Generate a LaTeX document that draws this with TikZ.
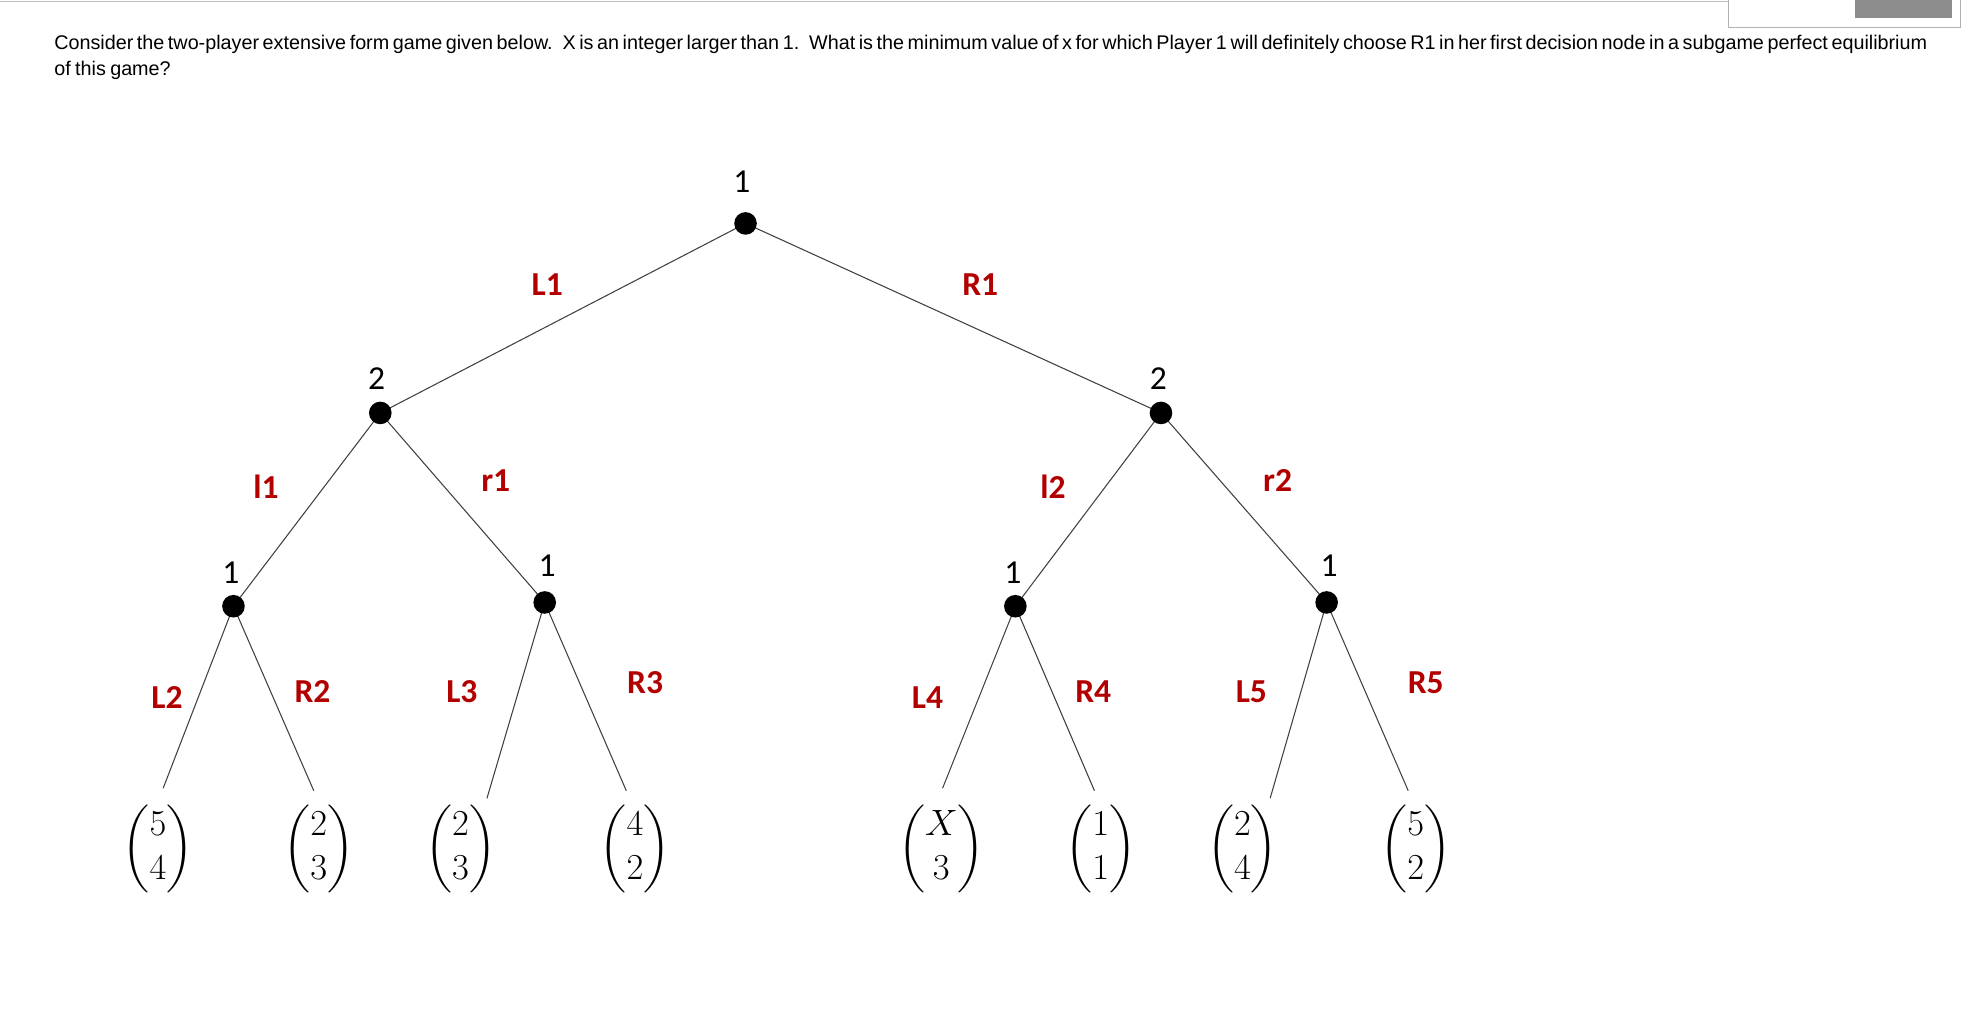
\documentclass[tikz,border=0pt]{standalone}
\usepackage{amsmath}
\usepackage{fontspec}
\usetikzlibrary{backgrounds}
\setmainfont{Liberation Sans}
\newfontfamily\lblfont{Carlito}
\begin{document}
\begin{tikzpicture}[x=0.025cm,y=-0.025cm,
  dot/.style={circle,fill=black,inner sep=0pt,minimum size=0.45cm},
  edge/.style={draw=black!75,line width=0.6pt},
  act/.style={font=\lblfont\bfseries\fontsize{19}{21}\selectfont,text=red!70!black},
  pl/.style={font=\lblfont\fontsize{19}{21}\selectfont},
  pay/.style={font=\fontsize{21}{25}\selectfont,inner sep=0pt}]
\useasboundingbox (0,0) rectangle (1568,817);
\draw[black!25] (0,1) -- (1377,1);
\draw[black!30] (1377,0) -- (1377,22) -- (1562,22) -- (1562,0);
\fill[black!45] (1478,0) rectangle (1555,14);
\node[anchor=north west,text width=37.3cm,font=\fontsize{11.2}{14.5}\selectfont,inner sep=0pt,align=left] (q) at (43,28) {\spaceskip=0.22em plus 0.05em minus 0.05em Consider the two-player extensive form game given below. X is an integer larger than 1. What is the minimum value of x for which Player 1 will definitely choose R1 in her first decision node in a subgame perfect equilibrium of this game?};
\node[dot] (a) at (594,178) {};
\node[dot] (b) at (303,329) {};
\node[dot] (c) at (925,329) {};
\node[dot] (d) at (186,483) {};
\node[dot] (e) at (434,480) {};
\node[dot] (f) at (809,483) {};
\node[dot] (g) at (1057,480) {};
\node[pl] (pa) at (591,145) {1};
\node[pl] (pb) at (300,302) {2};
\node[pl] (pc) at (923,302) {2};
\node[pl] (pd) at (184,456) {1};
\node[pl] (pe) at (436,451) {1};
\node[pl] (pf) at (807,456) {1};
\node[pl] (pg) at (1059,451) {1};
\coordinate (t1) at (130,628); \coordinate (t2) at (250,630);
\coordinate (t3) at (388,636); \coordinate (t4) at (499,630);
\coordinate (t5) at (751,628); \coordinate (t6) at (872,630);
\coordinate (t7) at (1012,636); \coordinate (t8) at (1122,630);
\begin{scope}[on background layer]
\draw[edge] (a.center) -- (b.center) (a.center) -- (c.center)
  (b.center) -- (d.center) (b.center) -- (e.center)
  (c.center) -- (f.center) (c.center) -- (g.center)
  (d.center) -- (t1) (d.center) -- (t2) (e.center) -- (t3) (e.center) -- (t4)
  (f.center) -- (t5) (f.center) -- (t6) (g.center) -- (t7) (g.center) -- (t8);
\end{scope}
\node[act] (L1) at (436,227) {L1};
\node[act] (R1) at (781,227) {R1};
\node[act] (l1) at (212,388) {l1};
\node[act] (r1) at (395,383) {r1};
\node[act] (l2) at (839,388) {l2};
\node[act] (r2) at (1018,383) {r2};
\node[act] (L2) at (133,556) {L2};
\node[act] (R2) at (249,551) {R2};
\node[act] (L3) at (368,551) {L3};
\node[act] (R3) at (514,544) {R3};
\node[act] (L4) at (739,556) {L4};
\node[act] (R4) at (871,551) {R4};
\node[act] (L5) at (997,551) {L5};
\node[act] (R5) at (1136,544) {R5};
\node[pay] (v1) at (126,676) {$\begin{pmatrix}5\\4\end{pmatrix}$};
\node[pay] (v2) at (254,676) {$\begin{pmatrix}2\\3\end{pmatrix}$};
\node[pay] (v3) at (367,676) {$\begin{pmatrix}2\\3\end{pmatrix}$};
\node[pay] (v4) at (506,676) {$\begin{pmatrix}4\\2\end{pmatrix}$};
\node[pay] (v5) at (750,676) {$\begin{pmatrix}X\\3\end{pmatrix}$};
\node[pay] (v6) at (877,676) {$\begin{pmatrix}1\\1\end{pmatrix}$};
\node[pay] (v7) at (990,676) {$\begin{pmatrix}2\\4\end{pmatrix}$};
\node[pay] (v8) at (1128,676) {$\begin{pmatrix}5\\2\end{pmatrix}$};
\end{tikzpicture}
\end{document}
